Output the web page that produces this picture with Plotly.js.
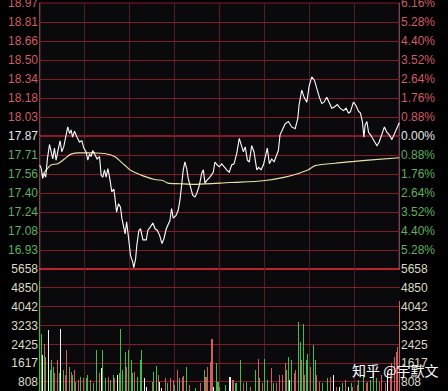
<!DOCTYPE html>
<html><head><meta charset="utf-8">
<script src="https://cdn.plot.ly/plotly-3.0.1.min.js"></script>
<style>html,body{margin:0;padding:0;background:#000;}#chart{width:448px;height:391px;}</style>
</head><body><div id="chart"></div>
<script>
// ---- data ----
const prevClose = 17.87;
const pctStep = 0.88; // percent per grid row
const priceTickLabels = ['18.97','18.81','18.66','18.50','18.34','18.18','18.03','17.87','17.71','17.56','17.40','17.24','17.08','16.93'];
const pctTickLabels = ['6.16%','5.28%','4.40%','3.52%','2.64%','1.76%','0.88%','0.00%','0.88%','1.76%','2.64%','3.52%','4.40%','5.28%'];
const volTickValues = [5658,4850,4042,3233,2425,1617,808];
const volTickLabels = ['5658','4850','4042','3233','2425','1617','808'];

const priceMinutes = [0,1,2,3,4,5,6.5,7.5,8.7,9.8,10.9,12.5,13.6,14.7,16,17.6,18.7,19.9,20.9,21.9,23.2,24.9,26.5,28.1,29.4,30.9,32.1,33.2,34.3,35.4,37,38.3,39.9,41,42.1,43.2,44.3,45.5,46.6,48.1,49.5,50.3,51.3,52.6,53.9,54.8,56.1,57,58,58.8,59.7,60.6,62,62.8,64,64.8,66.2,67.3,68.9,71.1,72.2,74,75.5,77.1,78.4,80,81.6,82.9,84.4,86.9,88,89.1,90.9,92.4,93.6,94.7,95.8,96.9,98.1,99.1,100.7,102.1,103.6,104.7,106.5,108.1,109.2,110.3,111.4,113.6,115.8,117,118.5,119.9,121.5,123,124.8,126.5,128.1,129.7,131.5,133.2,134.8,135.9,137.2,138.6,139.9,141.5,143,144.9,146.2,147.7,149.3,150.6,151.9,153.3,154.9,156.4,157.8,159.3,160.4,162.2,163.8,166,168.2,170.5,172.3,173.1,174.9,176.5,178.3,179.8,181.6,183.4,185,186.7,188.3,189.8,191.6,193.2,195,196.7,198.7,200.5,202.7,204.5,206.1,207.4,209.4,211,212.8,214.1,215.4,216.4,217.2,218.4,219.5,220.8,222.1,223.5,225.1,226.6,228.4,230.1,231.8,233.3,235.1,236.8,238.4,239.5,240];
const priceValues = [17.63,17.60,17.52,17.56,17.53,17.67,17.80,17.74,17.68,17.77,17.67,17.77,17.83,17.74,17.78,17.88,17.945,17.89,17.92,17.86,17.91,17.86,17.82,17.83,17.77,17.74,17.67,17.72,17.70,17.75,17.71,17.68,17.70,17.545,17.53,17.59,17.53,17.60,17.53,17.41,17.43,17.32,17.24,17.31,17.28,17.19,17.12,17.06,17.16,17.09,16.98,16.88,16.83,16.78,16.855,16.965,17.09,17.10,17.01,17.01,17.09,17.12,17.15,17.10,17.09,17.05,16.98,17.02,17.10,17.17,17.27,17.19,17.21,17.255,17.34,17.46,17.59,17.655,17.60,17.52,17.45,17.38,17.365,17.39,17.46,17.56,17.59,17.48,17.50,17.53,17.57,17.655,17.63,17.615,17.64,17.615,17.59,17.57,17.63,17.64,17.725,17.85,17.79,17.74,17.78,17.67,17.655,17.79,17.74,17.59,17.61,17.59,17.63,17.70,17.77,17.64,17.68,17.655,17.71,17.75,17.88,17.93,17.97,17.99,17.945,17.93,18.015,18.125,18.25,18.19,18.15,18.28,18.36,18.33,18.26,18.19,18.14,18.15,18.19,18.14,18.10,18.11,18.13,18.10,18.08,18.10,18.06,18.07,18.15,18.125,18.075,18.06,17.99,17.86,17.96,17.99,17.90,17.88,17.85,17.82,17.79,17.82,17.88,17.945,17.90,17.88,17.84,17.89,17.93,17.97,17.98];

const avgMinutes = [1.3,3.1,7.5,12,16.5,20.9,25.4,29.9,36.6,43.2,49.9,56.6,60.2,63.3,69,76.7,82.4,85.6,93.6,104.7,127,149.3,163.8,172.7,179.3,183.8,197.2,219.5,240];
const avgValues = [17.545,17.57,17.63,17.64,17.68,17.72,17.73,17.73,17.73,17.725,17.70,17.63,17.59,17.57,17.54,17.51,17.50,17.48,17.475,17.47,17.485,17.50,17.53,17.56,17.59,17.625,17.645,17.67,17.69];

const volMinutes = [0,1,2,3,4,6,7,8,9,10,12,13,14,16,17,18,20,21,22,23,24,26,27,29,31,32,34,36,38,40,41,42,44,46,47,49,50,52,53,54,55,57,58,59,61,62,63,65,67,68,70,71,75,76,78,79,80,81,84,85,87,89,90,92,93,95,96,98,100,104,107,110,111,112,114,115,116,118,119,120,124,127,129,131,134,136,138,141,144,146,147,149,150,152,155,156,158,160,162,164,165,166,167,168,170,171,173,174,175,176,177,178,179,181,183,184,185,187,189,192,194,196,198,200,202,204,206,208,209,212,213,216,218,219,221,223,225,227,228,231,232,234,235,237,238,239,240];
const volValues = [5146,2879,1956,2454,1884,3019,1318,1744,1459,1178,1744,1178,3091,1318,1106,2169,1459,1247,1106,1318,822,893,1035,964,964,1106,893,751,2169,1178,1389,2169,964,1035,893,1106,964,1106,1178,3091,1318,2097,1459,2169,1744,1178,1247,1035,1744,2169,964,609,822,1247,1488,1106,822,538,964,751,964,893,680,1318,964,1035,1063,1459,680,538,751,1318,1035,1459,1673,2665,609,1603,822,609,680,1035,893,751,1744,751,822,609,1318,1814,964,751,1814,893,1389,751,751,1106,1106,1603,1318,1884,893,1744,1178,1318,3372,2523,1744,3304,1106,1744,2000,1459,2381,1744,1106,822,751,964,1035,1106,609,609,751,893,609,751,609,680,893,1106,751,822,893,1178,964,822,1106,751,1178,1106,1603,1884,2097,2309,4295];
const volDir = ['g','g','w','r','g','w','g','g','g','r','r','g','w','g','r','r','g','r','g','r','g','r','g','r','g','g','r','g','g','r','w','g','g','r','g','g','r','w','g','g','g','g','r','g','g','g','r','g','g','g','w','w','r','g','g','r','w','w','r','g','r','r','g','r','g','r','r','g','r','g','r','g','r','r','r','r','w','g','g','r','g','w','r','g','g','r','g','r','g','r','g','r','g','g','r','g','r','r','r','r','g','g','w','g','r','r','g','g','r','g','r','g','g','r','g','g','r','r','g','g','r','w','r','w','g','r','w','g','r','r','g','g','r','r','g','g','g','r','r','r','w','r','r','r','r','r','r'];

// ---- styling ----
const RED = '#d45a66', GREEN = '#5cb25c', WHITE = '#e8e8e8', VOLC = '#dcdcc4';
const dirColor = {r:'#cf5f5f', g:'#3fbf47', w:'#f2f2f2'};
const font = 'Liberation Sans, Arial, sans-serif';

const priceTickVals = priceTickLabels.map((_, i) => prevClose * (1 + (7 - i) * pctStep / 100));
const tickColor = i => (i < 7 ? RED : (i === 7 ? WHITE : GREEN));
const priceTickText = priceTickLabels.map((t, i) => `<span style="color:${tickColor(i)}">${t}</span>`);
const pctTickText = pctTickLabels.map((t, i) => `<span style="color:${tickColor(i)}">${t}</span>`);
const priceRange = [prevClose * (1 - 7 * pctStep / 100), prevClose * (1 + 7 * pctStep / 100) + 1e-9];
const volRange = [421, 5658];
const split = 0.3144;

const traces = [
  {x: volMinutes, y: volValues, type: 'bar', xaxis: 'x', yaxis: 'y2', width: 0.7,
   marker: {color: volDir.map(d => dirColor[d]), line: {width: 0}}, hoverinfo: 'skip'},
  {x: avgMinutes, y: avgValues, type: 'scatter', mode: 'lines', xaxis: 'x', yaxis: 'y',
   line: {color: '#e9e2a6', width: 1.1, shape: 'spline', smoothing: 0.8}, hoverinfo: 'skip'},
  {x: priceMinutes, y: priceValues, type: 'scatter', mode: 'lines', xaxis: 'x', yaxis: 'y',
   line: {color: '#ffffff', width: 1.1}, hoverinfo: 'skip'},
  {x: priceMinutes, y: priceValues, type: 'scatter', mode: 'lines', xaxis: 'x', yaxis: 'y3',
   line: {color: 'rgba(0,0,0,0)', width: 0}, hoverinfo: 'skip'},
  {x: volMinutes, y: volValues, type: 'scatter', mode: 'lines', xaxis: 'x', yaxis: 'y4',
   line: {color: 'rgba(0,0,0,0)', width: 0}, hoverinfo: 'skip'}
];

const axFont = {family: font, size: 12};
const common = {zeroline: false, showline: false, ticks: '', fixedrange: true, ticklabeloverflow: 'allow'};
const layout = {
  width: 448, height: 391,
  margin: {l: 39, r: 48, t: 3, b: 0, pad: 0},
  paper_bgcolor: '#000000', plot_bgcolor: '#0a0a0c',
  showlegend: false, bargap: 0,
  xaxis: {range: [-0.5, 240.5], tickvals: [0,30,60,90,120,150,180,210,240], showticklabels: false,
          showgrid: true, gridcolor: '#4c1e25', gridwidth: 1, zeroline: false, showline: false, ticks: '', fixedrange: true},
  yaxis: Object.assign({domain: [split, 1], range: priceRange, tickvals: priceTickVals, ticktext: priceTickText,
          tickfont: axFont, showgrid: true, gridcolor: '#861a26', gridwidth: 1}, common),
  yaxis3: Object.assign({overlaying: 'y', side: 'right', anchor: 'x', range: priceRange, tickvals: priceTickVals, ticktext: pctTickText,
          tickfont: axFont, showgrid: false}, common),
  yaxis2: Object.assign({domain: [0, split], range: volRange, tickvals: volTickValues, ticktext: volTickLabels,
          tickfont: Object.assign({color: VOLC}, axFont), showgrid: true, gridcolor: '#861a26', gridwidth: 1}, common),
  yaxis4: Object.assign({overlaying: 'y2', side: 'right', anchor: 'x', range: volRange, tickvals: volTickValues, ticktext: volTickLabels,
          tickfont: Object.assign({color: VOLC}, axFont), showgrid: false}, common),
  shapes: [
    {type: 'line', xref: 'paper', yref: 'paper', x0: 0, x1: 1, y0: 1, y1: 1, line: {color: '#861a26', width: 1}, layer: 'below'},
    {type: 'line', xref: 'paper', yref: 'y', x0: 0, x1: 1, y0: prevClose, y1: prevClose, line: {color: '#b8202e', width: 1.6}, layer: 'below'},
    {type: 'line', xref: 'paper', yref: 'paper', x0: 0, x1: 1, y0: split, y1: split, line: {color: '#c0202e', width: 2}, layer: 'below'},
    {type: 'line', xref: 'x', yref: 'paper', x0: 120, x1: 120, y0: 0, y1: 1, line: {color: '#9a2232', width: 1.2}, layer: 'below'},
    {type: 'line', xref: 'x', yref: 'paper', x0: 0, x1: 0, y0: 0, y1: 1, line: {color: '#9c5a66', width: 1}, layer: 'below'},
    {type: 'line', xref: 'x', yref: 'paper', x0: 240, x1: 240, y0: split, y1: 1, line: {color: '#9c5a66', width: 1}, layer: 'below'}
  ],
  annotations: [
    {xref: 'paper', yref: 'paper', x: 0.985, y: 0.054, xanchor: 'center', yanchor: 'middle', showarrow: false,
     text: '知乎 @宇默文', font: {family: 'Noto Sans CJK SC, sans-serif', size: 14, color: '#ffffff'}}
  ]
};

Plotly.newPlot('chart', traces, layout, {displayModeBar: false, staticPlot: true});
</script>
</body></html>
